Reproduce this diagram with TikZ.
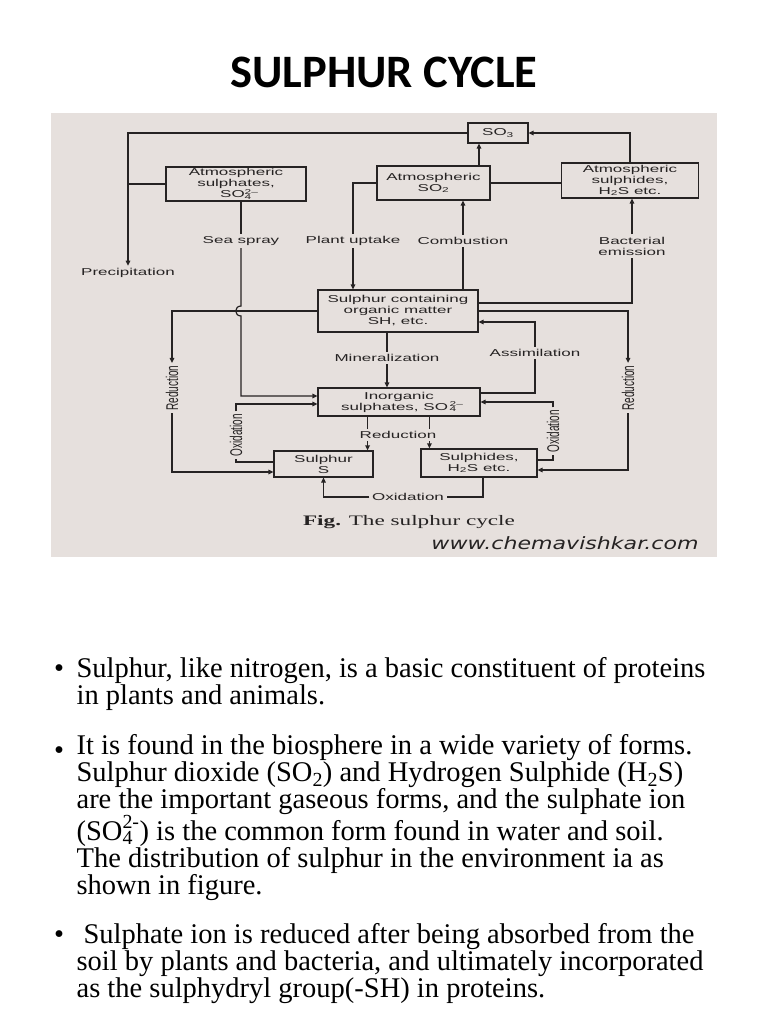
\documentclass[tikz,border=0pt]{standalone}
\usepackage{fontspec}
\setmainfont{Liberation Serif}
\newfontfamily\titlefont{Carlito}
\newfontfamily\figfont[FakeStretch=1.7]{Liberation Sans}
\newfontfamily\figrotfont{Liberation Sans}
\newfontfamily\capfont[FakeStretch=1.6]{Liberation Serif}
\newfontfamily\webfont[FakeStretch=1.3]{DejaVu Sans}
\usepackage{xcolor}
\usepackage{tikz}
\usetikzlibrary{arrows.meta,calc,positioning}
\definecolor{paper}{RGB}{230,224,221}
\definecolor{ink}{RGB}{38,35,35}

\begin{document}
\begin{tikzpicture}[x=1pt,y=-1pt,line width=1.2pt,
    box/.style={draw=ink,line width=1.2pt,inner sep=0pt,align=center,text=ink,font=\figfont\fontsize{10}{11}\selectfont},
    lbl/.style={inner sep=2pt,align=center,text=ink,font=\figfont\fontsize{10}{11}\selectfont},
    vlbl/.style={inner sep=2pt,rotate=90,text=ink,font=\figrotfont\fontsize{10}{11}\selectfont},
    flow/.style={draw=ink,line width=1.2pt},
    arr/.style={flow,-{Triangle[length=5pt,width=4.5pt]}},
    bul/.style={anchor=base west,align=left,inner sep=0pt,font=\fontsize{28.5}{27}\selectfont},
    dot/.style={anchor=base,inner sep=0pt,font=\fontsize{28.5}{27}\selectfont}]
    \fill[white] (0,0) rectangle (768,1024);
    \useasboundingbox (0,0) rectangle (768,1024);
    \fill[paper] (51,113) rectangle (717,557);

    \node[font=\titlefont\bfseries\fontsize{46.5}{50}\selectfont] (title) at (384,72) {SULPHUR CYCLE};

    \node[box,minimum width=60pt,minimum height=20pt] (so3) at (498,133) {SO\textsubscript{3}};
    \node[box,minimum width=140pt,minimum height=34pt] (atmsulph) at (236,184) {Atmospheric\\sulphates,\\SO\rlap{\textsuperscript{2–}}\textsubscript{4}};
    \node[box,minimum width=113pt,minimum height=34pt] (atmso2) at (433.5,183) {Atmospheric\\SO\textsubscript{2}};
    \node[box,minimum width=137pt,minimum height=35pt] (atmh2s) at (630,180.5) {Atmospheric\\sulphides,\\H\textsubscript{2}S etc.};
    \node[box,minimum width=160pt,minimum height=42pt] (organic) at (398,311) {Sulphur containing\\organic matter\\SH, etc.};
    \node[box,minimum width=162pt,minimum height=28pt] (inorg) at (399,402) {Inorganic\\sulphates, SO\,\rlap{\textsuperscript{2–}}\textsubscript{4}};
    \node[box,minimum width=99pt,minimum height=26pt] (sulphur) at (323.5,464) {Sulphur\\S};
    \node[box,minimum width=116pt,minimum height=28pt] (sulphides) at (479,463) {Sulphides,\\H\textsubscript{2}S etc.};

    \node[lbl] (prec) at (128,273) {Precipitation};
    \node[lbl] (sea) at (241,241) {Sea spray};
    \node[lbl] (uptake) at (353,241) {Plant uptake};
    \node[lbl] (comb) at (463,241) {Combustion};
    \node[lbl] (bact) at (632,246) {Bacterial\\emission};
    \node[lbl] (mineral) at (387,358) {Mineralization};
    \node[lbl] (assim) at (535,353) {Assimilation};
    \node[lbl] (redm) at (398,435) {Reduction};
    \node[lbl] (oxb) at (408,497) {Oxidation};
    \node[vlbl] (redl) at (172,388) {\scalebox{1}[1.7]{Reduction}};
    \node[vlbl] (oxl) at (236,435) {\scalebox{1}[1.7]{Oxidation}};
    \node[vlbl] (redr) at (628,388) {\scalebox{1}[1.7]{Reduction}};
    \node[vlbl] (oxr) at (553,431) {\scalebox{1}[1.7]{Oxidation}};

    \coordinate (so3in) at ([xshift=-19pt]so3.south);
    \coordinate (bactout) at ([yshift=8pt]organic.east);
    \coordinate (hop) at (sea.south |- organic.west);
    \coordinate (seain) at ([yshift=6pt]inorg.west);
    \coordinate (toS) at ([xshift=-6pt]sulphur.north east);
    \coordinate (toH) at ([xshift=9pt]sulphides.north west);

    \draw[arr] (so3.west) -| (prec.north);
    \draw[flow] (atmsulph.west) -- (atmsulph.west -| prec.north);
    \draw[arr] (so3in |- atmso2.north) -- (so3in);
    \draw[arr] (atmh2s.north) |- (so3.east);
    \draw[flow] (atmso2.east) -- (atmso2.east -| atmh2s.west);

    \draw[flow] (atmso2.west) -| (uptake.north);
    \draw[arr] (uptake.south) -- (uptake.south |- organic.north);
    \draw[flow] (organic.north -| comb) -- (comb.south);
    \draw[arr] (comb.north) -- (comb.north |- atmso2.south);
    \draw[flow] (bactout) -| (bact.south);
    \draw[arr] (bact.north) -- (bact.north |- atmh2s.south);

    \draw[flow] (sea.north |- atmsulph.south) -- (sea.north);
    \draw[arr] (sea.south) -- ([yshift=5pt]hop) .. controls +(-7,0) and +(-7,0) .. ([yshift=-5pt]hop) |- (seain);

    \draw[arr] (organic.west) -| (redl.east);
    \draw[arr] (redl.west) |- ([yshift=-8pt]sulphur.west);
    \draw[flow] ([yshift=2pt]sulphur.west) -| (oxl.west);
    \draw[arr] (oxl.east) |- ([yshift=-2pt]inorg.west);

    \draw[flow] (organic.south -| mineral) -- (mineral.north);
    \draw[arr] (mineral.south) -- (mineral.south |- inorg.north);
    \draw[flow] ([yshift=9pt]inorg.east) -| (assim.south);
    \draw[arr] (assim.north) |- ([yshift=-11pt]organic.east);

    \draw[arr] (organic.east) -| (redr.east);
    \draw[arr] (redr.west) |- ([yshift=-7pt]sulphides.east);
    \draw[flow] ([yshift=3pt]sulphides.east) -| (oxr.west);
    \draw[arr] (oxr.east) |- (inorg.east);

    \draw[flow] (toS |- inorg.south) -- (toS |- redm.north);
    \draw[arr] (toS |- redm.south) -- (toS);
    \draw[flow] (toH |- inorg.south) -- (toH |- redm.north);
    \draw[arr] (toH |- redm.south) -- (toH);

    \draw[flow] ([xshift=4pt]sulphides.south) |- (oxb.east);
    \draw[arr] (oxb.west) -| (sulphur.south);

    \node[text=ink,font=\capfont\fontsize{14.5}{16}\selectfont] (cap) at (409,522) {\textbf{Fig.} The sulphur cycle};
    \node[text=ink,font=\webfont\itshape\fontsize{17}{20}\selectfont] (web) at (565,543) {www.chemavishkar.com};

    % base of a multi-line node is its last line
    \node[dot] (d1) at (59,677) {•};
    \node[bul] (p1) at (76,704) {Sulphur, like nitrogen, is a basic constituent of proteins\\in plants and animals.};
    \node[dot] (d2) at (59,759) {•};
    \node[bul] (p2) at (76,894) {It is found in the biosphere in a wide variety of forms.\\Sulphur dioxide (SO\textsubscript{2}) and Hydrogen Sulphide (H\textsubscript{2}S)\\are the important gaseous forms, and the sulphate ion\\(SO\rlap{\textsubscript{4}}\raisebox{2pt}{\textsuperscript{2-}}) is the common form found in water and soil.\\The distribution of sulphur in the environment ia as\\shown in figure.};
    \node[dot] (d3) at (59,943) {•};
    \node[bul] (p3) at (76,997) {\hspace*{7pt}Sulphate ion is reduced after being absorbed from the\\soil by plants and bacteria, and ultimately incorporated\\as the sulphydryl group(-SH) in proteins.};
  \end{tikzpicture}
\end{document}
